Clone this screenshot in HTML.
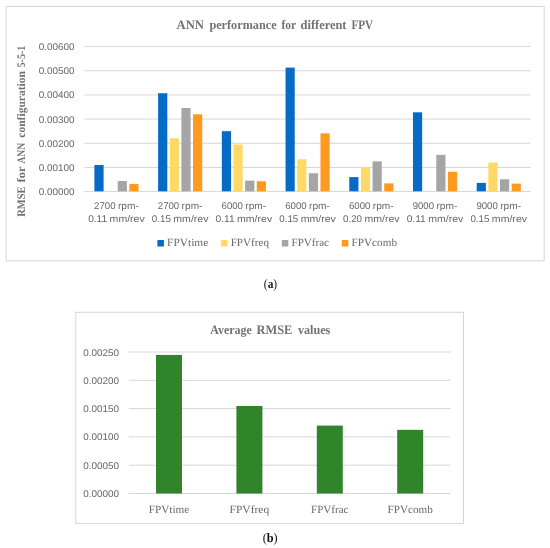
<!DOCTYPE html>
<html lang="en"><head><meta charset="utf-8"><title>ANN performance for different FPV</title>
<style>html,body{margin:0;padding:0;background:#fff}body{width:550px;height:548px;overflow:hidden}svg{display:block}text{text-rendering:geometricPrecision}.ax{font-family:"Liberation Sans",Arial,sans-serif;font-size:9.7px;fill:#666}.sf{font-family:"Liberation Serif","Times New Roman",serif;fill:#6a6a6a}.bd{font-family:"Liberation Serif","Times New Roman",serif;fill:#727272;font-weight:bold}.cap{font-family:"Liberation Serif","Times New Roman",serif;fill:#111;font-size:13px}</style></head><body>
<svg width="550" height="548" viewBox="0 0 550 548">
<rect width="550" height="548" fill="#fff"/>
<rect x="6.15" y="6.5" width="538.05" height="254.3" fill="#fff" stroke="#d6d6d6" stroke-width="1"/>
<line x1="84.6" x2="530.6" y1="191.60" y2="191.60" stroke="#d6d6d6" stroke-width="1"/>
<text class="ax" x="74.6" y="195.10" text-anchor="end" textLength="35.8" lengthAdjust="spacingAndGlyphs">0.00000</text>
<line x1="84.6" x2="530.6" y1="167.43" y2="167.43" stroke="#d6d6d6" stroke-width="1"/>
<text class="ax" x="74.6" y="170.93" text-anchor="end" textLength="35.8" lengthAdjust="spacingAndGlyphs">0.00100</text>
<line x1="84.6" x2="530.6" y1="143.26" y2="143.26" stroke="#d6d6d6" stroke-width="1"/>
<text class="ax" x="74.6" y="146.76" text-anchor="end" textLength="35.8" lengthAdjust="spacingAndGlyphs">0.00200</text>
<line x1="84.6" x2="530.6" y1="119.09" y2="119.09" stroke="#d6d6d6" stroke-width="1"/>
<text class="ax" x="74.6" y="122.59" text-anchor="end" textLength="35.8" lengthAdjust="spacingAndGlyphs">0.00300</text>
<line x1="84.6" x2="530.6" y1="94.92" y2="94.92" stroke="#d6d6d6" stroke-width="1"/>
<text class="ax" x="74.6" y="98.42" text-anchor="end" textLength="35.8" lengthAdjust="spacingAndGlyphs">0.00400</text>
<line x1="84.6" x2="530.6" y1="70.75" y2="70.75" stroke="#d6d6d6" stroke-width="1"/>
<text class="ax" x="74.6" y="74.25" text-anchor="end" textLength="35.8" lengthAdjust="spacingAndGlyphs">0.00500</text>
<line x1="84.6" x2="530.6" y1="46.58" y2="46.58" stroke="#d6d6d6" stroke-width="1"/>
<text class="ax" x="74.6" y="50.08" text-anchor="end" textLength="35.8" lengthAdjust="spacingAndGlyphs">0.00600</text>
<rect x="94.40" y="165.01" width="9.2" height="26.29" fill="#066bc6"/>
<rect x="117.70" y="180.97" width="9.2" height="10.33" fill="#a5a5a5"/>
<rect x="129.35" y="183.87" width="9.2" height="7.43" fill="#ff9a1f"/>
<g><text class="ax" x="94.11" y="208.9"  textLength="21.40" lengthAdjust="spacingAndGlyphs">2700</text> <text class="ax" x="117.91" y="208.9"  textLength="20.90" lengthAdjust="spacingAndGlyphs">rpm-</text></g>
<g><text class="ax" x="88.16" y="221.8"  textLength="19.00" lengthAdjust="spacingAndGlyphs">0.11</text> <text class="ax" x="109.61" y="221.8"  textLength="35.15" lengthAdjust="spacingAndGlyphs">mm/rev</text></g>
<rect x="158.11" y="93.23" width="9.2" height="98.07" fill="#066bc6"/>
<rect x="169.76" y="138.18" width="9.2" height="53.12" fill="#ffd966"/>
<rect x="181.41" y="107.97" width="9.2" height="83.33" fill="#a5a5a5"/>
<rect x="193.06" y="114.26" width="9.2" height="77.04" fill="#ff9a1f"/>
<g><text class="ax" x="157.82" y="208.9"  textLength="21.40" lengthAdjust="spacingAndGlyphs">2700</text> <text class="ax" x="181.62" y="208.9"  textLength="20.90" lengthAdjust="spacingAndGlyphs">rpm-</text></g>
<g><text class="ax" x="151.87" y="221.8"  textLength="19.00" lengthAdjust="spacingAndGlyphs">0.15</text> <text class="ax" x="173.32" y="221.8"  textLength="35.15" lengthAdjust="spacingAndGlyphs">mm/rev</text></g>
<rect x="221.83" y="131.17" width="9.2" height="60.13" fill="#066bc6"/>
<rect x="233.48" y="144.47" width="9.2" height="46.83" fill="#ffd966"/>
<rect x="245.13" y="180.60" width="9.2" height="10.70" fill="#a5a5a5"/>
<rect x="256.78" y="181.21" width="9.2" height="10.09" fill="#ff9a1f"/>
<g><text class="ax" x="221.54" y="208.9"  textLength="21.40" lengthAdjust="spacingAndGlyphs">6000</text> <text class="ax" x="245.34" y="208.9"  textLength="20.90" lengthAdjust="spacingAndGlyphs">rpm-</text></g>
<g><text class="ax" x="215.59" y="221.8"  textLength="19.00" lengthAdjust="spacingAndGlyphs">0.11</text> <text class="ax" x="237.04" y="221.8"  textLength="35.15" lengthAdjust="spacingAndGlyphs">mm/rev</text></g>
<rect x="285.54" y="67.61" width="9.2" height="123.69" fill="#066bc6"/>
<rect x="297.19" y="159.21" width="9.2" height="32.09" fill="#ffd966"/>
<rect x="308.84" y="173.23" width="9.2" height="18.07" fill="#a5a5a5"/>
<rect x="320.49" y="133.35" width="9.2" height="57.95" fill="#ff9a1f"/>
<g><text class="ax" x="285.25" y="208.9"  textLength="21.40" lengthAdjust="spacingAndGlyphs">6000</text> <text class="ax" x="309.05" y="208.9"  textLength="20.90" lengthAdjust="spacingAndGlyphs">rpm-</text></g>
<g><text class="ax" x="279.30" y="221.8"  textLength="19.00" lengthAdjust="spacingAndGlyphs">0.15</text> <text class="ax" x="300.75" y="221.8"  textLength="35.15" lengthAdjust="spacingAndGlyphs">mm/rev</text></g>
<rect x="349.26" y="177.10" width="9.2" height="14.20" fill="#066bc6"/>
<rect x="360.91" y="167.55" width="9.2" height="23.75" fill="#ffd966"/>
<rect x="372.56" y="161.39" width="9.2" height="29.91" fill="#a5a5a5"/>
<rect x="384.21" y="183.38" width="9.2" height="7.92" fill="#ff9a1f"/>
<g><text class="ax" x="348.96" y="208.9"  textLength="21.40" lengthAdjust="spacingAndGlyphs">6000</text> <text class="ax" x="372.76" y="208.9"  textLength="20.90" lengthAdjust="spacingAndGlyphs">rpm-</text></g>
<g><text class="ax" x="343.01" y="221.8"  textLength="19.00" lengthAdjust="spacingAndGlyphs">0.20</text> <text class="ax" x="364.46" y="221.8"  textLength="35.15" lengthAdjust="spacingAndGlyphs">mm/rev</text></g>
<rect x="412.97" y="112.32" width="9.2" height="78.98" fill="#066bc6"/>
<rect x="436.27" y="154.86" width="9.2" height="36.44" fill="#a5a5a5"/>
<rect x="447.92" y="171.78" width="9.2" height="19.52" fill="#ff9a1f"/>
<g><text class="ax" x="412.68" y="208.9"  textLength="21.40" lengthAdjust="spacingAndGlyphs">9000</text> <text class="ax" x="436.48" y="208.9"  textLength="20.90" lengthAdjust="spacingAndGlyphs">rpm-</text></g>
<g><text class="ax" x="406.73" y="221.8"  textLength="19.00" lengthAdjust="spacingAndGlyphs">0.11</text> <text class="ax" x="428.18" y="221.8"  textLength="35.15" lengthAdjust="spacingAndGlyphs">mm/rev</text></g>
<rect x="476.69" y="182.90" width="9.2" height="8.40" fill="#066bc6"/>
<rect x="488.34" y="162.60" width="9.2" height="28.70" fill="#ffd966"/>
<rect x="499.99" y="179.27" width="9.2" height="12.03" fill="#a5a5a5"/>
<rect x="511.64" y="183.62" width="9.2" height="7.68" fill="#ff9a1f"/>
<g><text class="ax" x="476.39" y="208.9"  textLength="21.40" lengthAdjust="spacingAndGlyphs">9000</text> <text class="ax" x="500.19" y="208.9"  textLength="20.90" lengthAdjust="spacingAndGlyphs">rpm-</text></g>
<g><text class="ax" x="470.44" y="221.8"  textLength="19.00" lengthAdjust="spacingAndGlyphs">0.15</text> <text class="ax" x="491.89" y="221.8"  textLength="35.15" lengthAdjust="spacingAndGlyphs">mm/rev</text></g>
<g><text class="bd" x="176.60" y="28.5" font-size="13" textLength="27.40" lengthAdjust="spacingAndGlyphs">ANN</text> <text class="bd" x="209.40" y="28.5" font-size="13" textLength="67.20" lengthAdjust="spacingAndGlyphs">performance</text> <text class="bd" x="281.40" y="28.5" font-size="13" textLength="14.60" lengthAdjust="spacingAndGlyphs">for</text> <text class="bd" x="300.60" y="28.5" font-size="13" textLength="45.80" lengthAdjust="spacingAndGlyphs">different</text> <text class="bd" x="351.40" y="28.5" font-size="13" textLength="21.60" lengthAdjust="spacingAndGlyphs">FPV</text></g>
<g transform="translate(24.7,216.7) rotate(-90)"><g><text class="bd" x="0.00" y="0" font-size="11.5" textLength="30.20" lengthAdjust="spacingAndGlyphs">RMSE</text> <text class="bd" x="34.20" y="0" font-size="11.5" textLength="16.00" lengthAdjust="spacingAndGlyphs">for</text> <text class="bd" x="53.20" y="0" font-size="11.5" textLength="20.60" lengthAdjust="spacingAndGlyphs">ANN</text> <text class="bd" x="79.00" y="0" font-size="11.5" textLength="66.70" lengthAdjust="spacingAndGlyphs">configuration</text> <text class="bd" x="149.30" y="0" font-size="11.5" textLength="21.70" lengthAdjust="spacingAndGlyphs">5-5-1</text></g></g>
<rect x="157.4" y="240" width="6.5" height="6.5" fill="#066bc6"/>
<text class="sf" x="167.1" y="246.2" font-size="11" textLength="41.1" lengthAdjust="spacingAndGlyphs">FPVtime</text>
<rect x="221" y="240" width="6.5" height="6.5" fill="#ffd966"/>
<text class="sf" x="230.7" y="246.2" font-size="11" textLength="38.3" lengthAdjust="spacingAndGlyphs">FPVfreq</text>
<rect x="281.8" y="240" width="6.5" height="6.5" fill="#a5a5a5"/>
<text class="sf" x="291.5" y="246.2" font-size="11" textLength="37.5" lengthAdjust="spacingAndGlyphs">FPVfrac</text>
<rect x="341.8" y="240" width="6.5" height="6.5" fill="#ff9a1f"/>
<text class="sf" x="351.5" y="246.2" font-size="11" textLength="45.5" lengthAdjust="spacingAndGlyphs">FPVcomb</text>
<text class="cap" x="270.5" y="288.4" text-anchor="middle" textLength="13.3" lengthAdjust="spacingAndGlyphs">(<tspan font-weight="bold">a</tspan>)</text>
<rect x="75.8" y="312.3" width="387.7" height="211.3" fill="#fff" stroke="#d6d6d6" stroke-width="1"/>
<line x1="128.8" x2="450.4" y1="493.50" y2="493.50" stroke="#d6d6d6" stroke-width="1"/>
<text class="ax" x="119" y="497.00" text-anchor="end" textLength="35.8" lengthAdjust="spacingAndGlyphs">0.00000</text>
<line x1="128.8" x2="450.4" y1="465.20" y2="465.20" stroke="#d6d6d6" stroke-width="1"/>
<text class="ax" x="119" y="468.70" text-anchor="end" textLength="35.8" lengthAdjust="spacingAndGlyphs">0.00050</text>
<line x1="128.8" x2="450.4" y1="436.90" y2="436.90" stroke="#d6d6d6" stroke-width="1"/>
<text class="ax" x="119" y="440.40" text-anchor="end" textLength="35.8" lengthAdjust="spacingAndGlyphs">0.00100</text>
<line x1="128.8" x2="450.4" y1="408.60" y2="408.60" stroke="#d6d6d6" stroke-width="1"/>
<text class="ax" x="119" y="412.10" text-anchor="end" textLength="35.8" lengthAdjust="spacingAndGlyphs">0.00150</text>
<line x1="128.8" x2="450.4" y1="380.30" y2="380.30" stroke="#d6d6d6" stroke-width="1"/>
<text class="ax" x="119" y="383.80" text-anchor="end" textLength="35.8" lengthAdjust="spacingAndGlyphs">0.00200</text>
<line x1="128.8" x2="450.4" y1="352.00" y2="352.00" stroke="#d6d6d6" stroke-width="1"/>
<text class="ax" x="119" y="355.50" text-anchor="end" textLength="35.8" lengthAdjust="spacingAndGlyphs">0.00250</text>
<rect x="156.00" y="354.94" width="26" height="138.56" fill="#30852b"/>
<text class="sf" x="169.00" y="512.6" font-size="11" text-anchor="middle" textLength="40.5" lengthAdjust="spacingAndGlyphs">FPVtime</text>
<rect x="236.40" y="406.00" width="26" height="87.50" fill="#30852b"/>
<text class="sf" x="249.40" y="512.6" font-size="11" text-anchor="middle" textLength="39.7" lengthAdjust="spacingAndGlyphs">FPVfreq</text>
<rect x="316.80" y="425.58" width="26" height="67.92" fill="#30852b"/>
<text class="sf" x="329.80" y="512.6" font-size="11" text-anchor="middle" textLength="37.5" lengthAdjust="spacingAndGlyphs">FPVfrac</text>
<rect x="397.20" y="429.82" width="26" height="63.68" fill="#30852b"/>
<text class="sf" x="410.20" y="512.6" font-size="11" text-anchor="middle" textLength="45.5" lengthAdjust="spacingAndGlyphs">FPVcomb</text>
<g><text class="bd" x="210.20" y="333.8" font-size="13" textLength="41.50" lengthAdjust="spacingAndGlyphs">Average</text> <text class="bd" x="256.50" y="333.8" font-size="13" textLength="35.90" lengthAdjust="spacingAndGlyphs">RMSE</text> <text class="bd" x="298.00" y="333.8" font-size="13" textLength="32.30" lengthAdjust="spacingAndGlyphs">values</text></g>
<text class="cap" x="270.2" y="542.4" text-anchor="middle" textLength="15" lengthAdjust="spacingAndGlyphs">(<tspan font-weight="bold">b</tspan>)</text>
</svg></body></html>
